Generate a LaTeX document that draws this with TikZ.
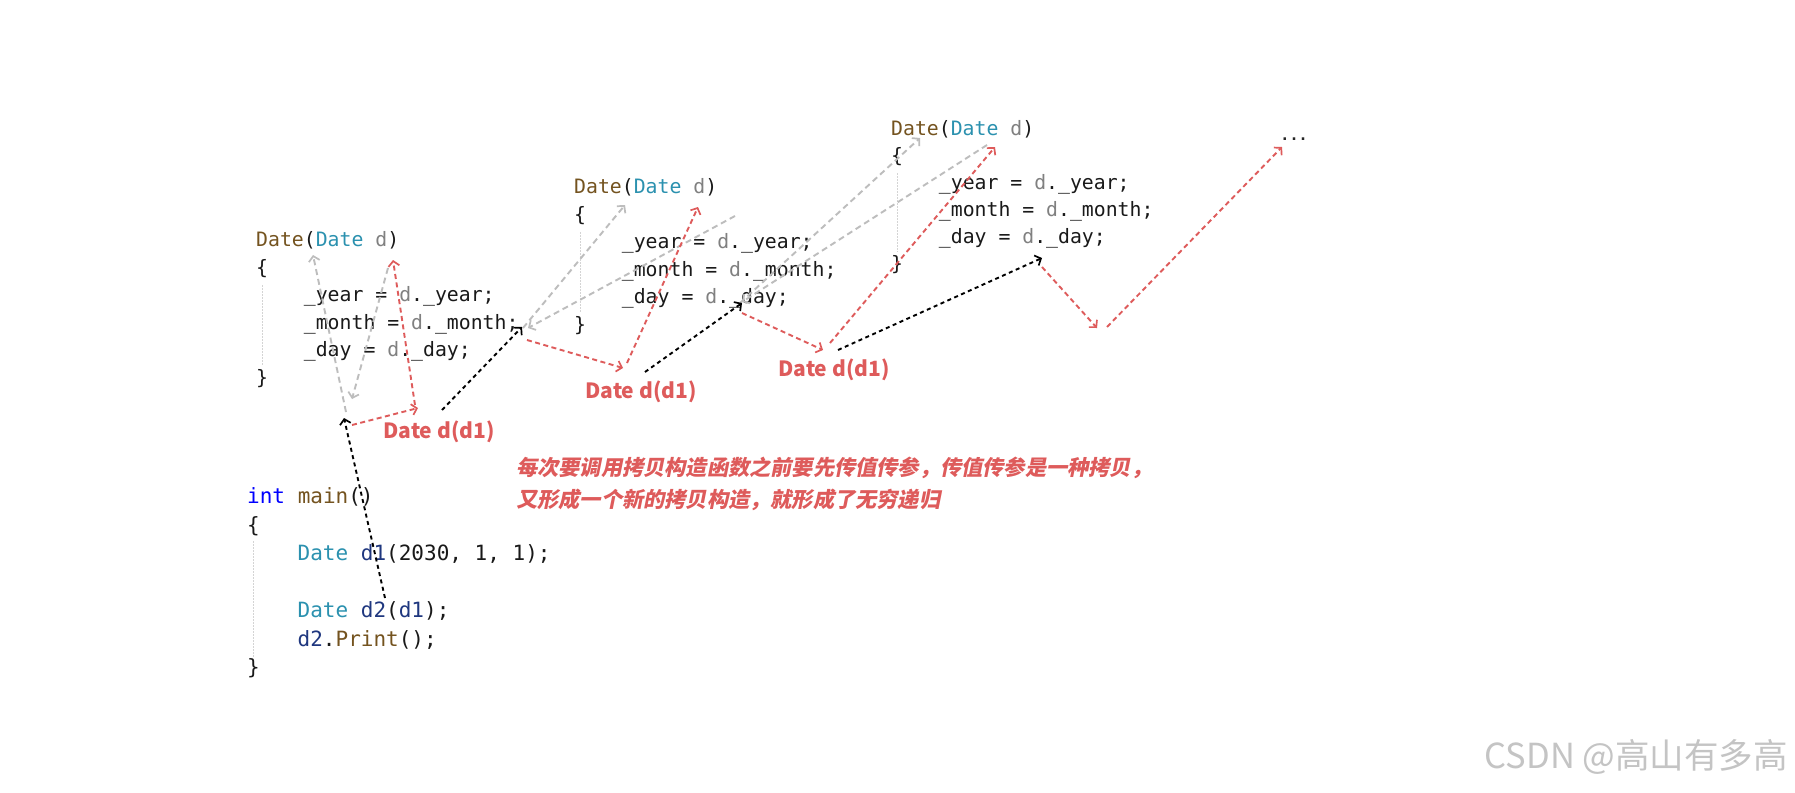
\documentclass[tikz,border=0pt]{standalone}
\usepackage{fontspec}
\usetikzlibrary{arrows.meta}
\setmonofont{DejaVu Sans Mono}
\newfontfamily\lblfont{Noto Sans CJK SC}
\newfontfamily\cjkit[FakeSlant=0.2]{Noto Sans CJK SC}
\newfontfamily\wmfont{Noto Sans CJK SC}
\definecolor{fnc}{HTML}{74531F}
\definecolor{tyc}{HTML}{2B91AF}
\definecolor{pmc}{HTML}{808080}
\definecolor{kwc}{HTML}{0000FF}
\definecolor{lvc}{HTML}{1F377F}
\definecolor{redc}{HTML}{DE5B5B}
\definecolor{gryc}{HTML}{BDBDBD}
\definecolor{guidec}{HTML}{D4D4D4}
\definecolor{wmc}{HTML}{C4C4C4}
\newcommand{\codefont}{\ttfamily\fontsize{19.8}{24}\selectfont}
\newcommand{\mainfont}{\ttfamily\fontsize{21}{26}\selectfont}
\newcommand{\hdr}{{\color{fnc}Date}({\color{tyc}Date} {\color{pmc}d})}
\tikzset{
  code/.style={anchor=base west, inner sep=0pt, font=\codefont, text=black!90},
  mcode/.style={anchor=base west, inner sep=0pt, font=\mainfont, text=black!90},
  guide/.style={draw=guidec, line width=0.9pt, dash pattern=on 1.5pt off 1.5pt},
  arr/.style={line width=1.9pt, -{Straight Barb[length=5pt,width=11pt,line width=1.7pt]}},
  blackarr/.style={arr, draw=black, dash pattern=on 4pt off 3.5pt},
  grayarr/.style={arr, draw=gryc, dash pattern=on 6pt off 4pt},
  redarr/.style={arr, draw=redc, dash pattern=on 5pt off 3.5pt},
  lbl/.style={inner sep=0pt, font=\lblfont\bfseries\fontsize{21}{25}\selectfont, text=redc},
  note/.style={anchor=base west, inner sep=0pt, text=redc, font=\cjkit\bfseries\fontsize{21.2}{25}\selectfont},
}
\begin{document}
\begin{tikzpicture}[x=1pt,y=-1pt]
\useasboundingbox (0,0) rectangle (1795,792);
\fill[white] (0,0) rectangle (1795,792);

% ---- block 1
\node[code] (h1) at (256,246.5) {\hdr};
\node[code] (o1) at (256,274) {\{};
\node[code] (y1) at (303.7,301.5) {\_year = {\color{pmc}d}.\_year;};
\node[code] (m1) at (303.7,329) {\_month = {\color{pmc}d}.\_month;};
\node[code] (d1) at (303.7,356.5) {\_day = {\color{pmc}d}.\_day;};
\node[code] (c1) at (256,384) {\}};
\draw[guide] (262.5,285) -- (262.5,366);

% ---- block 2
\node[code] (h2) at (574,193.5) {\hdr};
\node[code] (o2) at (574,221) {\{};
\node[code] (y2) at (621.7,248.5) {\_year = {\color{pmc}d}.\_year;};
\node[code] (m2) at (621.7,276) {\_month = {\color{pmc}d}.\_month;};
\node[code] (d2) at (621.7,303.5) {\_day = {\color{pmc}d}.\_day;};
\node[code] (c2) at (574,331) {\}};
\draw[guide] (580.5,232) -- (580.5,313);

% ---- block 3
\node[code] (h3) at (891,135) {\hdr};
\node[code] (o3) at (891,162) {\{};
\node[code] (y3) at (938.7,189) {\_year = {\color{pmc}d}.\_year;};
\node[code] (m3) at (938.7,216) {\_month = {\color{pmc}d}.\_month;};
\node[code] (d3) at (938.7,243) {\_day = {\color{pmc}d}.\_day;};
\node[code] (c3) at (891,270) {\}};
\draw[guide] (897.5,173) -- (897.5,252);

\node[inner sep=0pt, font=\ttfamily\bfseries\fontsize{15}{18}\selectfont, text=black!85] (dots) at (1294,139) {...};

% ---- main
\node[mcode] (mn) at (247,503.5) {{\color{kwc}int} {\color{fnc}main}()};
\node[mcode] (mo) at (247,532) {\{};
\node[mcode] (l1) at (297.5,560.5) {{\color{tyc}Date} {\color{lvc}d1}(2030, 1, 1);};
\node[mcode] (l2) at (297.5,617.5) {{\color{tyc}Date} {\color{lvc}d2}({\color{lvc}d1});};
\node[mcode] (l3) at (297.5,646) {{\color{lvc}d2}.{\color{fnc}Print}();};
\node[mcode] (mc) at (247,674.5) {\}};
\draw[guide] (253.5,541) -- (253.5,657);

% ---- labels
\node[lbl] (L1) at (439,432) {Date d(d1)};
\node[lbl] (L2) at (641,392) {Date d(d1)};
\node[lbl] (L3) at (834,370) {Date d(d1)};

\node[note] (note1) at (516,475) {每次要调用拷贝构造函数之前要先传值传参，传值传参是一种拷贝，};
\node[note] (note2) at (516,507) {又形成一个新的拷贝构造，就形成了无穷递归};

\node[anchor=east, inner sep=0pt, text=wmc, font=\wmfont\fontsize{34.5}{40}\selectfont] (wm) at (1788,757) {CSDN @高山有多高};

% ---- coordinates for connectors
\coordinate (b1s) at (385,598); \coordinate (b1e) at (344,418);
\coordinate (b2s) at (442,410); \coordinate (b2e) at (522,327);
\coordinate (b3s) at (645,372); \coordinate (b3e) at (742,303);
\coordinate (b4s) at (838,350); \coordinate (b4e) at (1042,258);

\coordinate (g1s) at (346,412); \coordinate (g1e) at (313,255);
\coordinate (g2s) at (388,268); \coordinate (g2e) at (352,399);
\coordinate (g3s) at (523,328); \coordinate (g3e) at (625,205);
\coordinate (g4s) at (735,216); \coordinate (g4e) at (528,328);
\coordinate (g5s) at (740,303); \coordinate (g5e) at (920,138);
\coordinate (g6s) at (987,145); \coordinate (g6e) at (742,302);

\coordinate (r1s) at (352,425); \coordinate (r1e) at (418,408);
\coordinate (r2s) at (415,405); \coordinate (r2e) at (393,260);
\coordinate (r3s) at (527,340); \coordinate (r3e) at (623,368);
\coordinate (r4s) at (627,363); \coordinate (r4e) at (698,207);
\coordinate (r5s) at (742,313); \coordinate (r5e) at (823,350);
\coordinate (r6s) at (830,343); \coordinate (r6e) at (995,147);
\coordinate (r7s) at (1042,267); \coordinate (r7e) at (1097,328);
\coordinate (r8s) at (1107,327); \coordinate (r8e) at (1282,147);

\foreach \n in {1,...,6} \draw[grayarr] (g\n s) -- (g\n e);
\foreach \n in {1,...,8} \draw[redarr] (r\n s) -- (r\n e);
\foreach \n in {1,...,4} \draw[blackarr] (b\n s) -- (b\n e);
\end{tikzpicture}
\end{document}
